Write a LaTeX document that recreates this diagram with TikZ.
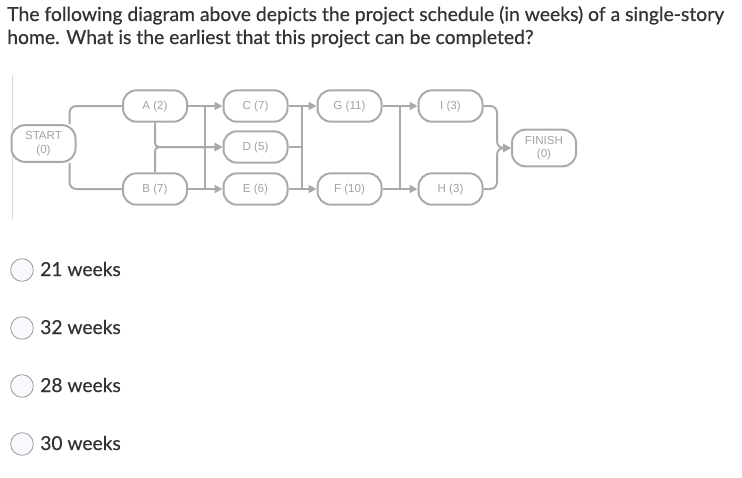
\documentclass[tikz,border=0pt]{standalone}
\usepackage{fontspec}
\setmainfont{Lato}
\newfontfamily\qfont{Lato}[FakeBold=0.6]
\newfontfamily\diagfont{Liberation Sans}
\usetikzlibrary{positioning,arrows.meta}
\definecolor{linegray}{HTML}{AAAAAA}
\definecolor{labelgray}{HTML}{A3A3A3}
\definecolor{railgray}{HTML}{DADADA}
\definecolor{qtext}{HTML}{333333}
\definecolor{radiofill}{HTML}{F8F9FC}
\definecolor{radiodraw}{HTML}{9A9A9A}

\begin{document}
\begin{tikzpicture}[x=0.75pt,y=-0.75pt]
    % Stili
    \tikzset{
        task/.style={rectangle, draw=linegray, line width=1.5pt, rounded corners=10pt, fill=white, minimum width=48pt, minimum height=23.5pt, inner sep=0pt, align=center, text=labelgray, font=\diagfont\fontsize{8.7}{10}\selectfont},
        endpoint/.style={task, minimum height=27.5pt},
        link/.style={draw=linegray, line width=1.5pt},
        arrow/.style={link, -{Triangle[length=6pt,width=6pt]}},
        radio/.style={circle, draw=radiodraw, line width=0.6pt, fill=radiofill, minimum size=17pt, inner sep=0pt},
        answer/.style={anchor=base west, inner sep=0pt, text=qtext, font=\qfont\fontsize{14.4}{17}\selectfont}
    }
    \useasboundingbox (0,0) rectangle (742,478);

    % Domanda
    \node[anchor=base west, inner sep=0pt, align=left, text=qtext, font=\qfont\fontsize{14.5}{17.25}\selectfont] (question) at (7,44)
        {The following diagram above depicts the project schedule (in weeks) of a single-story\\home. What is the earliest that this project can be completed?};

    % Linea a sinistra
    \draw[railgray, line width=0.75pt] (12,75) -- (12,220);

    % Attivita
    \node[endpoint] (start) at (43.5,143.5) {START\\(0)};
    \node[task] (a) at (155,106) {A (2)};
    \node[task] (b) at (155,189) {B (7)};
    \node[task] (c) at (255.5,106) {C (7)};
    \node[task] (d) at (255.5,147) {D (5)};
    \node[task] (e) at (255.5,189) {E (6)};
    \node[task] (g) at (349.5,106) {G (11)};
    \node[task] (f) at (349.5,189) {F (10)};
    \node[task] (i) at (450.5,106) {I (3)};
    \node[task] (h) at (450.5,189) {H (3)};
    \node[endpoint] (finish) at (544,148) {FINISH\\(0)};

    % Giunzioni
    \coordinate (jab) at (205,106);
    \coordinate (jcg) at (302,106);
    \coordinate (jgi) at (400,106);
    \coordinate (jfin) at (497,148);

    % Collegamenti
    \draw[link, rounded corners=5pt] ([xshift=-5.25pt]start.north east) |- (a.west);
    \draw[link, rounded corners=5pt] ([xshift=-5.25pt]start.south east) |- (b.west);

    \draw[arrow] (a.east) -- (c.west);
    \draw[arrow] (b.east) -- (e.west);
    \draw[link] (jab) -- (jab |- b.east);
    \draw[arrow, rounded corners=3pt] (a.south) |- (d.west);
    \draw[arrow, rounded corners=3pt] (b.north) |- (d.west);

    \draw[arrow] (c.east) -- (g.west);
    \draw[arrow] (e.east) -- (f.west);
    \draw[link] (jcg) -- (jcg |- f.west);
    \draw[link] (d.east) -- (d.east -| jcg);

    \draw[arrow] (g.east) -- (i.west);
    \draw[arrow] (f.east) -- (h.west);
    \draw[link] (jgi) -- (jgi |- h.west);

    \draw[arrow, rounded corners=5pt] (i.east) -| (jfin) -- (finish.west);
    \draw[arrow, rounded corners=5pt] (h.east) -| (jfin) -- (finish.west);

    % Risposte
    \node[radio] (r1) at (22,270) {};
    \node[radio] (r2) at (22,328) {};
    \node[radio] (r3) at (22,386) {};
    \node[radio] (r4) at (22,444) {};
    \node[answer] (w1) at (40,276) {21 weeks};
    \node[answer] (w2) at (40,334) {32 weeks};
    \node[answer] (w3) at (40,392) {28 weeks};
    \node[answer] (w4) at (40,450) {30 weeks};
\end{tikzpicture}
\end{document}
